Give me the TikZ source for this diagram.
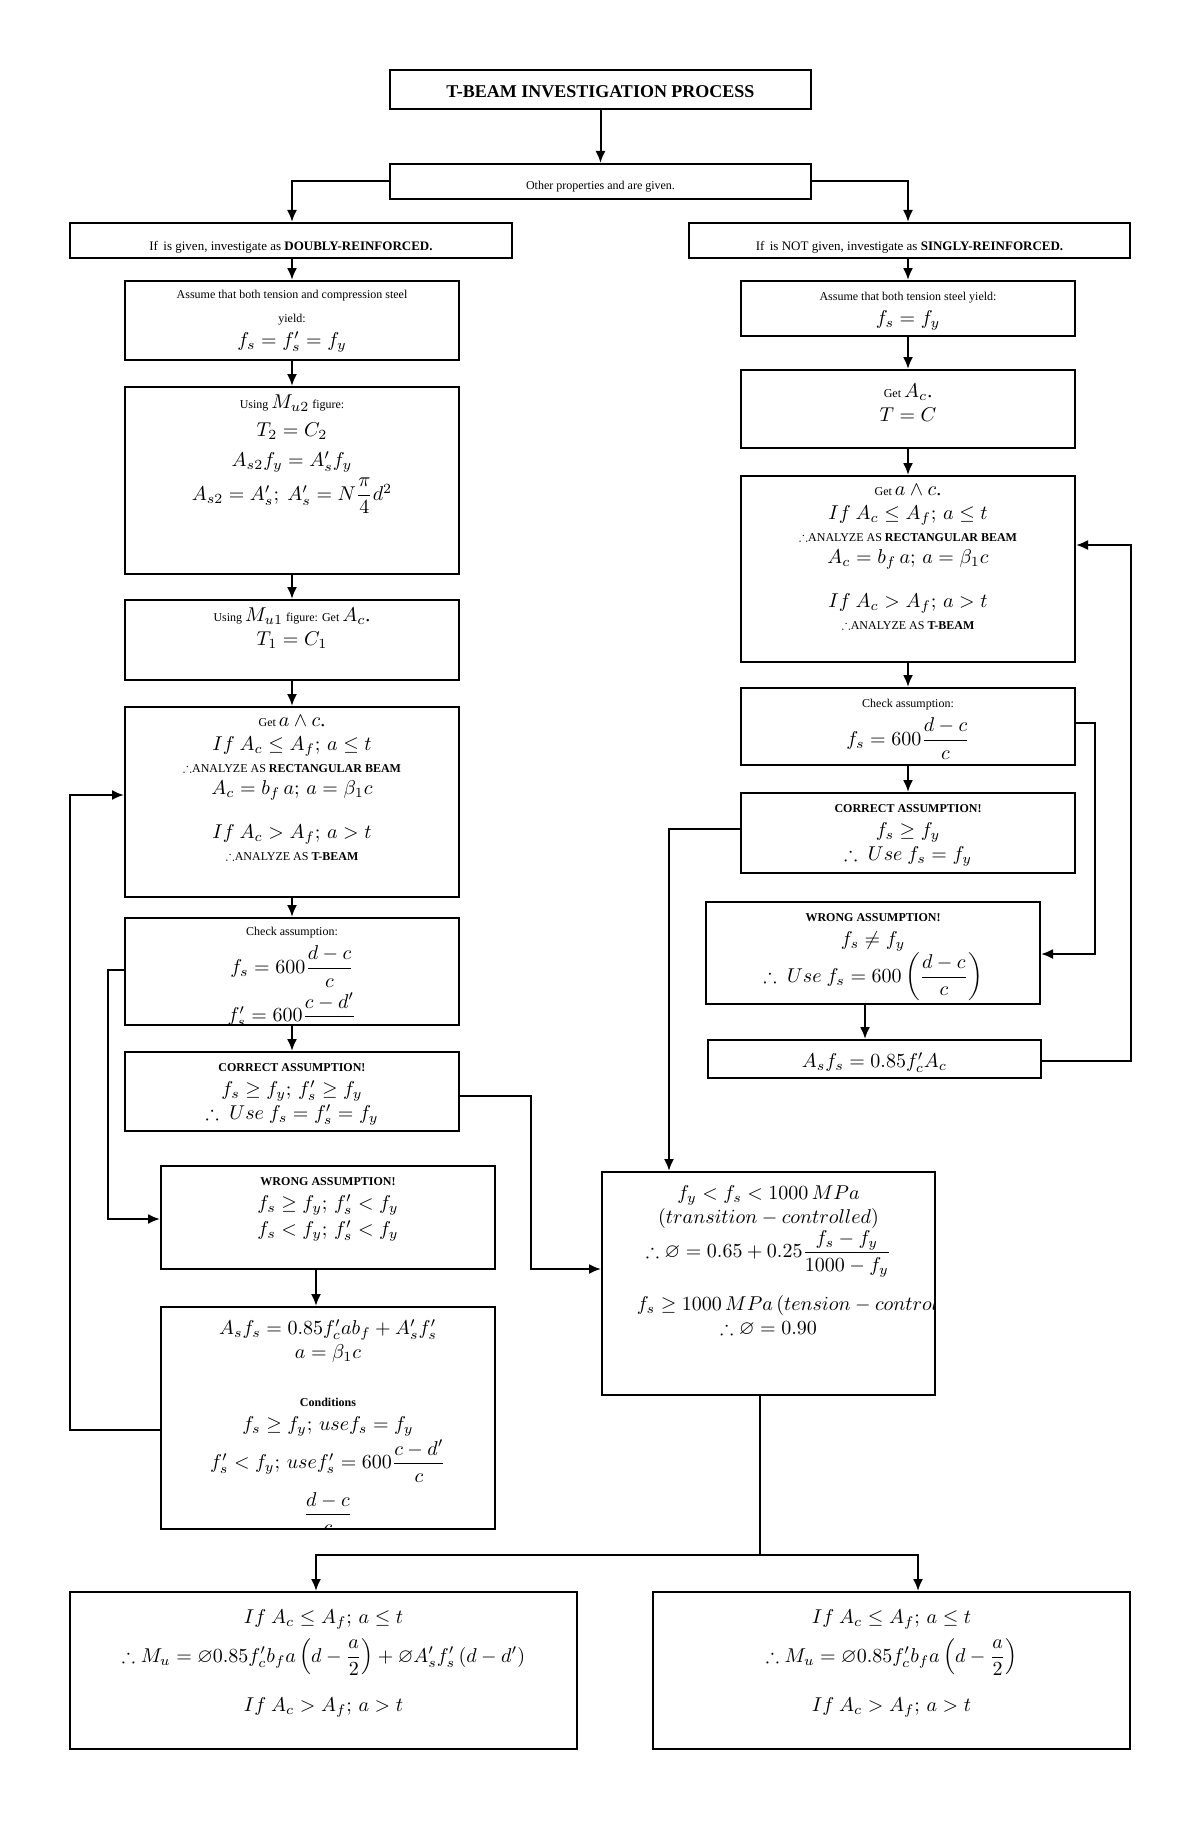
\documentclass[tikz,border=0pt]{standalone}
\usepackage{amsmath,amssymb}
\usepackage{fontspec}
\setmainfont{Liberation Serif}
\usetikzlibrary{arrows.meta,fit}
\newcommand\sm{\fontsize{6}{7.5}\selectfont}
\newcommand\md{\fontsize{10}{12}\selectfont}
\newcommand\bb[6]{%
 \node[box,fit={(#2,#3)(#4,#5)}] (#1) {};
 \begin{scope}\clip (#2,#3) rectangle (#4,#5);
 \node[txt,anchor=north] (#1t) at ([yshift=-1pt]#1.north) {#6};
 \end{scope}}
\begin{document}
\begin{tikzpicture}[x=0.5pt,y=-0.5pt,
 box/.style={draw,line width=1pt,inner sep=0pt},
 txt/.style={align=center,inner sep=1pt},
 ar/.style={line width=1pt,-{Latex[length=6pt,width=5pt]}},
 ln/.style={line width=1pt}]
\useasboundingbox (0,0) rectangle (1200,1835);
\bb{title}{390}{70}{811}{109}{\fontsize{9}{11}\selectfont\rule{0pt}{12pt}\textbf{T-BEAM INVESTIGATION PROCESS}}
\bb{other}{390}{164}{811}{199}{\sm\rule{0pt}{11pt}Other properties and are given.}
\bb{dbl}{70}{223}{512}{258}{\fontsize{6.5}{8}\selectfont\rule{0pt}{12pt}If\, is given, investigate as \textbf{DOUBLY-REINFORCED.}}
\bb{sgl}{689}{223}{1130}{258}{\fontsize{6.5}{8}\selectfont\rule{0pt}{12pt}If\, is NOT given, investigate as \textbf{SINGLY-REINFORCED.}}
\bb{L1}{125}{281}{459}{360}{\sm\rule{0pt}{7pt}Assume that both tension and compression steel\\ \sm yield:\\ \md $f_s=f_s'=f_y$}
\bb{L2}{125}{387}{459}{574}{\sm\rule{0pt}{9pt}Using \md$M_{u2}$\sm\ figure:\\[2pt] \md $T_2=C_2$\\[3pt] \md $A_{s2}f_y=A_s'f_y$\\[2pt] \md $A_{s2}=A_s';\ A_s'=N\dfrac{\pi}{4}d^2$}
\bb{L3}{125}{600}{459}{680}{\sm\rule{0pt}{9pt}Using \md$M_{u1}$\sm\ figure: Get \md$A_c$.\\ \md $T_1=C_1$}
\bb{L4}{125}{707}{459}{897}{\sm\rule{0pt}{8pt}Get \md$a\wedge c$.\\ \md $If\ A_c\le A_f;\,a\le t$\\[-1pt] \sm $\therefore$ANALYZE AS \textbf{RECTANGULAR BEAM}\\[-1pt] \md $A_c=b_f\,a;\,a=\beta_1 c$\\[10pt] \md $If\ A_c>A_f;\,a>t$\\[-1pt] \sm $\therefore$ANALYZE AS \textbf{T-BEAM}}
\bb{L5}{125}{918}{459}{1025}{\sm\rule{0pt}{7pt}Check assumption:\\[3pt] \md $f_s=600\dfrac{d-c}{c}$\\[2pt] \md $f_s'=600\dfrac{c-d'}{c}$}
\bb{L6}{125}{1052}{459}{1131}{\sm\rule{0pt}{8pt}\textbf{CORRECT ASSUMPTION!}\\ \md $f_s\ge f_y;\,f_s'\ge f_y$\\ \md $\therefore\ Use\ f_s=f_s'=f_y$}
\bb{L7}{161}{1166}{495}{1269}{\sm\rule{0pt}{8pt}\textbf{WRONG ASSUMPTION!}\\ \md $f_s\ge f_y;\,f_s'<f_y$\\[1pt] \md $f_s<f_y;\,f_s'<f_y$}
\bb{L8}{161}{1307}{495}{1529}{\md\rule{0pt}{12pt}$A_sf_s=0.85f_c'ab_f+A_s'f_s'$\\ \md $a=\beta_1c$\\[12pt] \sm\textbf{Conditions}\\ \md $f_s\ge f_y;\,use f_s=f_y$\\[1pt] \md $f_s'<f_y;\,use f_s'=600\dfrac{c-d'}{c}$\\[4pt] \md $\dfrac{d-c}{c}$}
\bb{R1}{741}{281}{1075}{336}{\sm\rule{0pt}{8pt}Assume that both tension steel yield:\\ \md $f_s=f_y$}
\bb{R2}{741}{370}{1075}{448}{\sm\rule{0pt}{12pt}Get \md$A_c$.\\ \md $T=C$}
\bb{R3}{741}{476}{1075}{662}{\sm\rule{0pt}{8pt}Get \md$a\wedge c$.\\ \md $If\ A_c\le A_f;\,a\le t$\\[-1pt] \sm $\therefore$ANALYZE AS \textbf{RECTANGULAR BEAM}\\[-1pt] \md $A_c=b_f\,a;\,a=\beta_1 c$\\[10pt] \md $If\ A_c>A_f;\,a>t$\\[-1pt] \sm $\therefore$ANALYZE AS \textbf{T-BEAM}}
\bb{R4}{741}{688}{1075}{765}{\sm\rule{0pt}{8pt}Check assumption:\\[3pt] \md $f_s=600\dfrac{d-c}{c}$}
\bb{R5}{741}{793}{1075}{873}{\sm\rule{0pt}{8pt}\textbf{CORRECT ASSUMPTION!}\\ \md $f_s\ge f_y$\\ \md $\therefore\ Use\ f_s=f_y$}
\bb{R6}{706}{902}{1040}{1004}{\sm\rule{0pt}{8pt}\textbf{WRONG ASSUMPTION!}\\ \md $f_s\ne f_y$\\ \md $\therefore\ Use\ f_s=600\left(\dfrac{d-c}{c}\right)$}
\bb{R7}{708}{1040}{1041}{1078}{\md\rule{0pt}{12pt}$A_sf_s=0.85f_c'A_c$}
\bb{phi}{602}{1172}{935}{1395}{\md\rule{0pt}{12pt}$f_y<f_s<1000\,MPa$\\ \md $\left(transition-controlled\right)$\\ \md $\therefore\varnothing=0.65+0.25\dfrac{f_s-f_y}{1000-f_y}$\\[8pt] \md\hspace*{36pt}$f_s\ge1000\,MPa\left(tension-controlled\right)$\\ \md $\therefore\varnothing=0.90$}
\bb{BL}{70}{1592}{577}{1749}{\md\rule{0pt}{14pt}$If\ A_c\le A_f;\,a\le t$\\[4pt] \md $\therefore M_u=\varnothing0.85f_c'b_fa\left(d-\dfrac{a}{2}\right)+\varnothing A_s'f_s'\left(d-d'\right)$\\[10pt] \md $If\ A_c>A_f;\,a>t$}
\bb{BR}{653}{1592}{1130}{1749}{\md\rule{0pt}{14pt}$If\ A_c\le A_f;\,a\le t$\\[4pt] \md $\therefore M_u=\varnothing0.85f_c'b_fa\left(d-\dfrac{a}{2}\right)$\\[10pt] \md $If\ A_c>A_f;\,a>t$}
% connectors
\draw[ar] (title) -- (other);
\draw[ar] (other.west) -| (dbl.north -| L1.north);
\draw[ar] (other.east) -| (sgl.north -| R1.north);
\draw[ar] (dbl.south -| L1.north) -- (L1);
\draw[ar] (L1) -- (L2);
\draw[ar] (L2) -- (L3);
\draw[ar] (L3) -- (L4);
\draw[ar] (L4) -- (L5);
\draw[ar] (L5) -- (L6);
\draw[ar] (L7.south -| 316,0) -- (L8.north -| 316,0);
\draw[ar] (sgl.south -| R1.north) -- (R1);
\draw[ar] (R1) -- (R2);
\draw[ar] (R2) -- (R3);
\draw[ar] (R3) -- (R4);
\draw[ar] (R4) -- (R5);
\draw[ar] (R6.south -| 865,0) -- (R7.north -| 865,0);
\coordinate (c1) at (70,1430); \coordinate (c2) at (70,795);
\draw[ar] (L8.west |- c1) -- (c1) -- (c2) -- (L4.west |- c2);
\coordinate (c3) at (108,970); \coordinate (c4) at (108,1219);
\draw[ar] (L5.west |- c3) -- (c3) -- (c4) -- (L7.west |- c4);
\coordinate (c5) at (531,1096); \coordinate (c6) at (531,1269);
\draw[ar] (L6.east |- c5) -- (c5) -- (c6) -- (phi.west |- c6);
\coordinate (c7) at (669,829);
\draw[ar] (R5.west |- c7) -- (c7) -- (phi.north -| c7);
\coordinate (c8) at (1095,723); \coordinate (c9) at (1095,954);
\draw[ar] (R4.east |- c8) -- (c8) -- (c9) -- (R6.east |- c9);
\coordinate (c10) at (1131,1061); \coordinate (c11) at (1131,545);
\draw[ar] (R7.east |- c10) -- (c10) -- (c11) -- (R3.east |- c11);
\coordinate (c12) at (760,1555); \coordinate (c13) at (316,1555); \coordinate (c14) at (918,1555);
\draw[ln] (phi.south -| c12) -- (c12);
\draw[ar] (c12) -- (c13) -- (BL.north -| c13);
\draw[ar] (c12) -- (c14) -- (BR.north -| c14);
\end{tikzpicture}
\end{document}
